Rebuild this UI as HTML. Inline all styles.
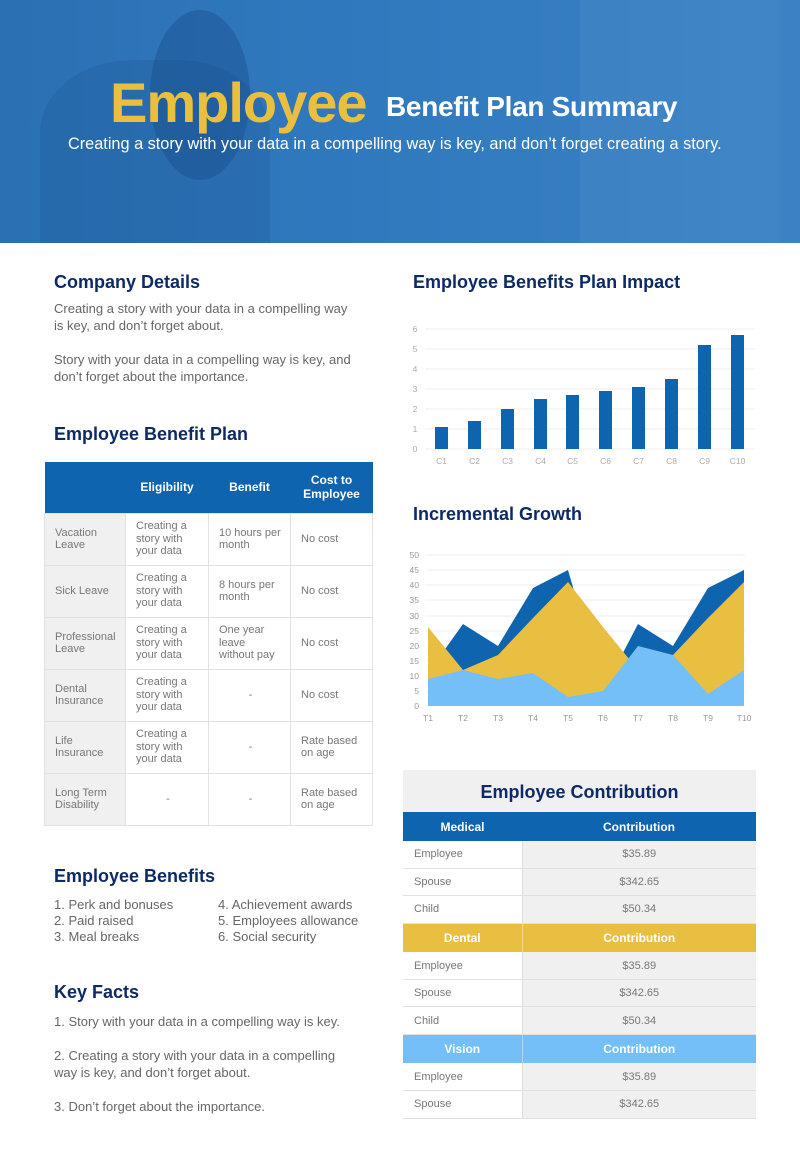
<!DOCTYPE html>
<html><head><meta charset="utf-8"><style>
*{margin:0;padding:0;box-sizing:border-box}
body{width:800px;height:1156px;position:relative;background:#fff;font-family:"Liberation Sans",sans-serif;overflow:hidden}
.a{position:absolute}
h2{position:absolute;font-size:18px;font-weight:bold;color:#0d2a66}
.p{position:absolute;font-size:13px;color:#666;line-height:17px}
table{border-collapse:collapse;position:absolute}
.t1 td{border:1px solid #e2e2e2;font-size:11px;color:#777;line-height:12.5px;padding:0 8px 0 10px;height:52px;vertical-align:middle}
.t1 td:first-child{background:#f0f0f0}
.t1 th{background:#0f64b0;color:#fff;font-size:12px;height:51px}
.t2 td{font-size:11px;color:#777;height:27.4px;border-bottom:1px solid #e0e0e0}
.t2 td:first-child{padding-left:11px;background:#fff;width:119px}
.t2 td:last-child{text-align:center;background:#f0f0f0;border-left:1px solid #ddd}
.t2 th{color:#fff;font-size:12px;height:29px}
</style></head><body>
<div class="a" style="left:0;top:0;width:800px;height:243px;background:linear-gradient(90deg,#2a70b3 0%,#3078bd 40%,#3a82c4 100%)"></div>
<div class="a" style="left:40px;top:60px;width:230px;height:183px;background:#1f5a98;opacity:.3;border-radius:40% 40% 0 0"></div>
<div class="a" style="left:150px;top:10px;width:100px;height:170px;background:#12407a;opacity:.3;border-radius:50%"></div>
<div class="a" style="left:580px;top:0;width:200px;height:243px;background:#5a9ad2;opacity:.2"></div>
<div class="a" style="left:110px;top:70px;font-size:56px;font-weight:bold;color:#ebbf3e;letter-spacing:-1px">Employee</div>
<div class="a" style="left:386px;top:91px;font-size:28px;font-weight:bold;color:#fff;letter-spacing:-0.3px">Benefit Plan Summary</div>
<div class="a" style="left:68px;top:135px;font-size:16.3px;color:#fff;width:700px;white-space:nowrap">Creating a story with your data in a compelling way is key, and don’t forget creating a story.</div>

<h2 style="left:54px;top:272px">Company Details</h2>
<div class="p" style="left:54px;top:300px;width:305px">Creating a story with your data in a compelling way is key, and don’t forget about.<br><br>Story with your data in a compelling way is key, and don’t forget about the importance.</div>
<h2 style="left:54px;top:424px">Employee Benefit Plan</h2>
<table class="t1" style="left:44px;top:462px;width:329px">
<tr><th style="width:81px"></th><th style="width:83px">Eligibility</th><th style="width:82px">Benefit</th><th>Cost to<br>Employee</th></tr>
<tr><td>Vacation<br>Leave</td><td>Creating a<br>story with<br>your data</td><td>10 hours per<br>month</td><td>No cost</td></tr>
<tr><td>Sick Leave</td><td>Creating a<br>story with<br>your data</td><td>8 hours per<br>month</td><td>No cost</td></tr>
<tr><td>Professional<br>Leave</td><td>Creating a<br>story with<br>your data</td><td>One year<br>leave<br>without pay</td><td>No cost</td></tr>
<tr><td>Dental<br>Insurance</td><td>Creating a<br>story with<br>your data</td><td style="text-align:center">-</td><td>No cost</td></tr>
<tr><td>Life<br>Insurance</td><td>Creating a<br>story with<br>your data</td><td style="text-align:center">-</td><td>Rate based<br>on age</td></tr>
<tr><td>Long Term<br>Disability</td><td style="text-align:center">-</td><td style="text-align:center">-</td><td>Rate based<br>on age</td></tr>
</table>
<h2 style="left:54px;top:866px">Employee Benefits</h2>
<div class="p" style="left:54px;top:897px;line-height:16px">1. Perk and bonuses<br>2. Paid raised<br>3. Meal breaks</div>
<div class="p" style="left:218px;top:897px;line-height:16px">4. Achievement awards<br>5. Employees allowance<br>6. Social security</div>
<h2 style="left:54px;top:982px">Key Facts</h2>
<div class="p" style="left:54px;top:1013px;width:300px">1. Story with your data in a compelling way is key.<br><br>2. Creating a story with your data in a compelling way is key, and don’t forget about.<br><br>3. Don’t forget about the importance.</div>

<h2 style="left:413px;top:272px">Employee Benefits Plan Impact</h2>
<svg class="a" style="left:400px;top:320px" width="380" height="150" font-family="Liberation Sans" font-size="8.5" fill="#aaa">
<g stroke="#eee" stroke-width="1">
<line x1="25" x2="355" y1="9" y2="9"/><line x1="25" x2="355" y1="29" y2="29"/><line x1="25" x2="355" y1="49" y2="49"/><line x1="25" x2="355" y1="69" y2="69"/><line x1="25" x2="355" y1="89" y2="89"/><line x1="25" x2="355" y1="109" y2="109"/><line x1="25" x2="355" y1="129" y2="129"/></g>
<g text-anchor="middle"><text x="15" y="12">6</text><text x="15" y="32">5</text><text x="15" y="52">4</text><text x="15" y="72">3</text><text x="15" y="92">2</text><text x="15" y="112">1</text><text x="15" y="132">0</text></g>
<g fill="#0f64b0">
<rect x="35" y="107" width="13" height="22"/><rect x="68" y="101" width="13" height="28"/><rect x="101" y="89" width="13" height="40"/><rect x="134" y="79" width="13" height="50"/><rect x="166" y="75" width="13" height="54"/><rect x="199" y="71" width="13" height="58"/><rect x="232" y="67" width="13" height="62"/><rect x="265" y="59" width="13" height="70"/><rect x="298" y="25" width="13" height="104"/><rect x="331" y="15" width="13" height="114"/></g>
<g text-anchor="middle"><text x="41.5" y="144">C1</text><text x="74.5" y="144">C2</text><text x="107.5" y="144">C3</text><text x="140.5" y="144">C4</text><text x="172.5" y="144">C5</text><text x="205.5" y="144">C6</text><text x="238.5" y="144">C7</text><text x="271.5" y="144">C8</text><text x="304.5" y="144">C9</text><text x="337.5" y="144">C10</text></g>
</svg>

<h2 style="left:413px;top:504px">Incremental Growth</h2>
<svg class="a" style="left:400px;top:545px" width="380" height="180" font-family="Liberation Sans" font-size="8.5" fill="#999">
<g stroke="#eee"><line x1="27" x2="345" y1="10" y2="10"/><line x1="27" x2="345" y1="25" y2="25"/><line x1="27" x2="345" y1="40" y2="40"/><line x1="27" x2="345" y1="55" y2="55"/><line x1="27" x2="345" y1="71" y2="71"/><line x1="27" x2="345" y1="86" y2="86"/><line x1="27" x2="345" y1="101" y2="101"/><line x1="27" x2="345" y1="116" y2="116"/><line x1="27" x2="345" y1="131" y2="131"/><line x1="27" x2="345" y1="146" y2="146"/></g>
<g text-anchor="end"><text x="19" y="13">50</text><text x="19" y="28">45</text><text x="19" y="43">40</text><text x="19" y="58">35</text><text x="19" y="74">30</text><text x="19" y="89">25</text><text x="19" y="104">20</text><text x="19" y="119">15</text><text x="19" y="134">10</text><text x="19" y="149">5</text><text x="19" y="164">0</text></g>
<polygon fill="#0f64b0" points="28,161 28,128 63,79 98,101 133,43 168,25 203,146 238,79 273,101 308,43 344,25 344,161"/>
<polygon fill="#e9bf42" points="28,161 28,82 63,125 98,110 133,73 168,37 203,82 238,125 273,110 308,73 344,37 344,161"/>
<polygon fill="#74bff7" points="28,161 28,134 63,125 98,134 133,128 168,152 203,146 238,101 273,110 308,149 344,125 344,161"/>
<g text-anchor="middle"><text x="28" y="176">T1</text><text x="63" y="176">T2</text><text x="98" y="176">T3</text><text x="133" y="176">T4</text><text x="168" y="176">T5</text><text x="203" y="176">T6</text><text x="238" y="176">T7</text><text x="273" y="176">T8</text><text x="308" y="176">T9</text><text x="344" y="176">T10</text></g>
</svg>

<div class="a" style="left:403px;top:770px;width:353px;height:42px;background:#f0f0f0;text-align:center;font-size:18px;font-weight:bold;color:#0d2a66;line-height:44px">Employee Contribution</div>
<table class="t2" style="left:403px;top:812px;width:353px">
<tr style="background:#0f64b0"><th>Medical</th><th>Contribution</th></tr>
<tr><td>Employee</td><td>$35.89</td></tr><tr><td>Spouse</td><td>$342.65</td></tr><tr><td>Child</td><td>$50.34</td></tr>
<tr style="background:#e9bf42"><th>Dental</th><th style="border-left:1px solid #f5da8a">Contribution</th></tr>
<tr><td>Employee</td><td>$35.89</td></tr><tr><td>Spouse</td><td>$342.65</td></tr><tr><td>Child</td><td>$50.34</td></tr>
<tr style="background:#74bff7"><th>Vision</th><th style="border-left:1px solid #a8d8fb">Contribution</th></tr>
<tr><td>Employee</td><td>$35.89</td></tr><tr><td>Spouse</td><td>$342.65</td></tr>
</table>
</body></html>
